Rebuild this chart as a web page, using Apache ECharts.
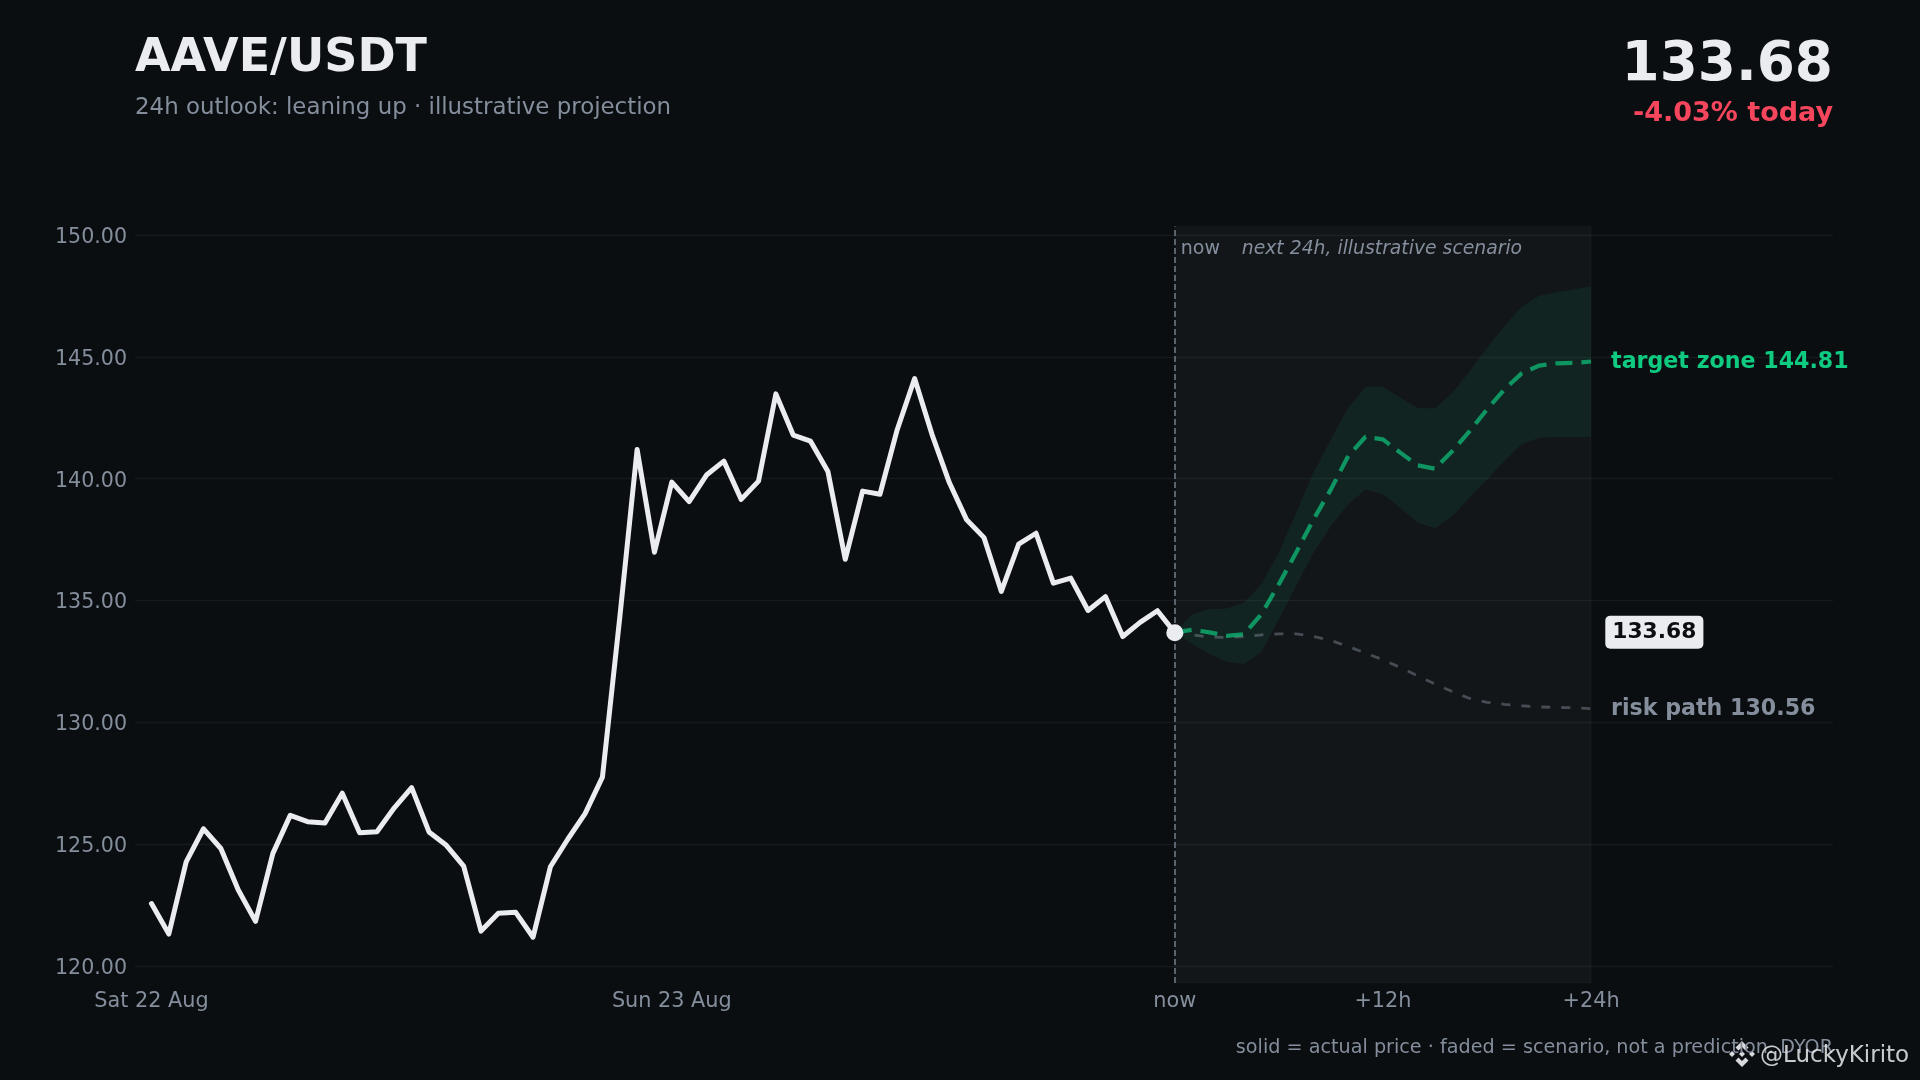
<!DOCTYPE html>
<html><head><meta charset="utf-8">
<style>html,body{margin:0;padding:0;background:#0b0e11}#c{width:1920px;height:1080px}</style>
<script src="https://cdn.jsdelivr.net/npm/echarts@6/dist/echarts.min.js"></script></head>
<body><div id="c"></div>
<script>
const historyPrice=[122.56,121.31,124.27,125.63,124.82,123.13,121.83,124.62,126.18,125.92,125.87,127.09,125.47,125.51,126.49,127.32,125.5,124.95,124.1,121.43,122.16,122.2,121.18,124.07,125.2,126.25,127.75,134.3,141.2,136.98,139.86,139.06,140.15,140.72,139.15,139.9,143.48,141.79,141.54,140.29,136.69,139.49,139.36,142.02,144.11,141.82,139.84,138.31,137.58,135.37,137.31,137.76,135.71,135.92,134.59,135.16,133.52,134.1,134.58,133.68];
const targetPath=[133.69,133.8,133.69,133.55,133.62,134.44,135.67,136.97,138.33,139.56,140.93,141.72,141.61,141.07,140.55,140.41,141.13,141.95,142.84,143.66,144.32,144.64,144.73,144.75,144.81];
const riskPath=[133.69,133.59,133.5,133.48,133.52,133.59,133.63,133.63,133.52,133.36,133.11,132.84,132.57,132.25,131.91,131.57,131.26,130.98,130.82,130.74,130.68,130.63,130.61,130.6,130.56];
const bandUpper=[133.69,134.44,134.64,134.67,134.92,135.67,136.97,138.6,140.25,141.61,142.91,143.77,143.77,143.32,142.91,142.88,143.52,144.41,145.37,146.26,147.05,147.51,147.65,147.76,147.9];
const bandLower=[133.69,133.21,132.8,132.49,132.39,132.9,134.23,135.6,136.97,138.06,138.95,139.56,139.36,138.81,138.2,137.96,138.47,139.22,139.97,140.72,141.41,141.68,141.71,141.71,141.71];
const yTicks=[120,125,130,135,140,145,150];
const xTicks=[0,30,59,71,83];
const xTickLabels=['Sat 22 Aug','Sun 23 Aug','now','+12h','+24h'];
const nowIndex=59, endIndex=83;
const lastPrice=133.68;

const FONT='"DejaVu Sans"';
const WHITE='#eaecef',GRAY='#848e9c',GREEN='#0ecb81',RED='#f6465d';
const withX=(arr,start)=>arr.map((v,i)=>[start+i,v]);
const logoFill={fill:'#eaecef',opacity:.92};

const chart=echarts.init(document.getElementById('c'),null,{renderer:'canvas'});
chart.setOption({
  animation:false,
  backgroundColor:'#0b0e11',
  textStyle:{fontFamily:FONT},
  grid:{left:135,right:87,top:226.5,bottom:97,containLabel:false},
  title:[
    {text:'AAVE/USDT',left:130,top:31,textStyle:{color:WHITE,fontSize:46,fontWeight:'bold',fontFamily:FONT}},
    {text:'24h outlook: leaning up · illustrative projection',left:130,top:92,textStyle:{color:GRAY,fontSize:22.9,fontWeight:'normal',fontFamily:FONT}},
    {text:'133.68',right:82,top:33,textStyle:{color:WHITE,fontSize:54.8,fontWeight:'bold',fontFamily:FONT}},
    {text:'-4.03% today',right:82,top:95,textStyle:{color:RED,fontSize:27,fontWeight:'bold',fontFamily:FONT}},
    {text:'solid = actual price · faded = scenario, not a prediction. DYOR',right:82,top:1034,textStyle:{color:GRAY,fontSize:19.2,fontWeight:'normal',fontFamily:FONT}}
  ],
  xAxis:{type:'value',min:-0.95,max:96.95,
    axisLine:{show:false},
    axisTick:{show:false,customValues:xTicks},
    splitLine:{show:false},
    axisLabel:{customValues:xTicks,margin:8,color:GRAY,fontSize:20.8,fontFamily:FONT,
      formatter:v=>xTickLabels[xTicks.indexOf(v)]||''}},
  yAxis:{type:'value',min:119.3,max:150.35,
    axisLine:{show:false},
    axisTick:{show:false,customValues:yTicks},
    splitLine:{show:true,customValues:yTicks,lineStyle:{color:'#151a1f',width:1.3}},
    axisLabel:{customValues:yTicks,margin:8,color:GRAY,fontSize:20.6,fontFamily:FONT,verticalAlign:'top',lineHeight:5,formatter:v=>v.toFixed(2)}},
  graphic:[
    {type:'group',left:1729,top:1041,z:100,children:[
      {type:'polygon',shape:{points:[[13,0],[19.5,6.5],[16.5,9.5],[13,6],[9.5,9.5],[6.5,6.5]]},style:logoFill},
      {type:'polygon',shape:{points:[[13,26],[19.5,19.5],[16.5,16.5],[13,20],[9.5,16.5],[6.5,19.5]]},style:logoFill},
      {type:'polygon',shape:{points:[[0,13],[3,10],[6,13],[3,16]]},style:logoFill},
      {type:'polygon',shape:{points:[[26,13],[23,10],[20,13],[23,16]]},style:logoFill},
      {type:'polygon',shape:{points:[[13,10],[16,13],[13,16],[10,13]]},style:logoFill}
    ]},
    {type:'text',left:1760,top:1045,z:100,style:{text:'@LuckyKirito',fill:'rgba(234,236,239,.85)',font:'23px "DejaVu Sans"'}}
  ],
  series:[
    {type:'custom',name:'scenario band',coordinateSystem:'cartesian2d',z:3,silent:true,
      data:[[nowIndex,lastPrice]],clip:false,
      renderItem:(p,api)=>{
        const pts=[];
        bandUpper.forEach((v,i)=>pts.push(api.coord([nowIndex+i,v])));
        for(let i=bandLower.length-1;i>=0;i--)pts.push(api.coord([nowIndex+i,bandLower[i]]));
        return {type:'polygon',shape:{points:pts},style:{fill:GREEN,opacity:.08}};
      }},
    {type:'line',name:'risk path',data:withX(riskPath,nowIndex),z:4,symbol:'none',silent:true,
      lineStyle:{color:GRAY,opacity:.45,width:2.8,type:[9,11]},
      endLabel:{show:true,distance:20,offset:[0,1],formatter:'risk path 130.56',color:GRAY,fontSize:22.15,fontWeight:'bold',fontFamily:FONT}},
    {type:'line',name:'target zone',data:withX(targetPath,nowIndex),z:5,symbol:'none',silent:true,
      lineStyle:{color:GREEN,opacity:.68,width:4.2,type:[17,9]},
      endLabel:{show:true,distance:20,offset:[0,1],formatter:'target zone 144.81',color:GREEN,fontSize:22.15,fontWeight:'bold',fontFamily:FONT}},
    {type:'line',name:'price',data:withX(historyPrice,0),z:6,symbol:'none',silent:true,
      lineStyle:{color:WHITE,width:5,join:'round',cap:'round'},
      markArea:{silent:true,z:1,itemStyle:{color:'rgba(255,255,255,.035)',borderColor:'rgba(255,255,255,.03)',borderWidth:1},
        data:[[{xAxis:nowIndex,yAxis:119.3},{xAxis:endIndex,yAxis:150.35}]]},
      markLine:{silent:true,symbol:'none',z:2,label:{show:false},
        lineStyle:{color:GRAY,type:[6,3],width:1.5,opacity:.85},
        data:[{xAxis:nowIndex}]}},
    {type:'scatter',name:'now',data:[[nowIndex,lastPrice]],z:8,symbol:'circle',symbolSize:17,silent:true,
      itemStyle:{color:WHITE,opacity:1},
      label:{show:true,opacity:1,position:[439,8],verticalAlign:'middle',align:'left',formatter:String(lastPrice.toFixed(2)),
        color:'#0b0e11',fontSize:21.8,fontWeight:'bold',fontFamily:FONT,backgroundColor:WHITE,borderRadius:5,padding:[6,7,5,7]}},
    {type:'scatter',name:'annotations',data:[[nowIndex,150.35]],z:8,symbolSize:0,silent:true,itemStyle:{opacity:1},
      label:{show:true,opacity:1,position:[6,23],align:'left',verticalAlign:'middle',
        formatter:'{a|now}{b|next 24h, illustrative scenario}',
        rich:{a:{color:GRAY,fontSize:19,fontFamily:FONT,width:61},b:{color:GRAY,fontSize:18.8,fontStyle:'italic',fontFamily:FONT}}}}
  ]
});
</script></body></html>
